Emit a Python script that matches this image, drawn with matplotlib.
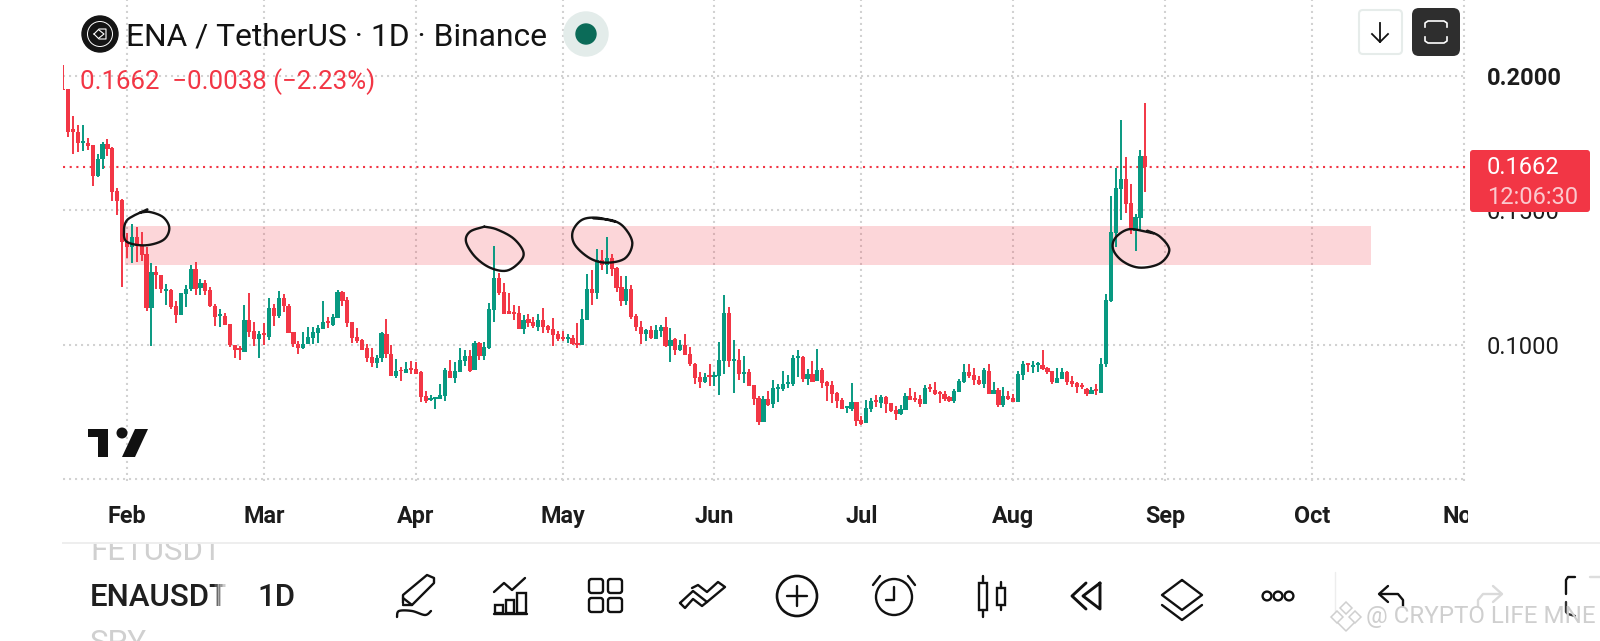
import numpy as np
import matplotlib
matplotlib.use("Agg")
import matplotlib.pyplot as plt
from matplotlib.patches import Rectangle, Circle, FancyBboxPatch, Polygon

plt.rcParams['font.family'] = ['Roboto', 'DejaVu Sans']
plt.rcParams['lines.scale_dashes'] = False

# ---------- data: daily candles, day 0 = 1 Feb ----------
first_day = -13
opens = [
 .1950,.1952,.1802,.1793,.1752,.1750,.1743,.1628,.1691,.1747,.1731,.1572,.1539,
 .1384,.1363,.1400,.1371,.1338,.1138,.1271,.1262,.1201,.1205,.1144,.1111,.1189,.1208,.1281,.1213,.1229,.1204,
 .1146,.1108,.1108,.1077,.1000,.0987,.0975,.1092,.1051,.1023,.1043,.1030,.1136,.1108,.1173,.1144,.1049,.1005,
 .0987,.1005,.1027,.1043,.1059,.1090,.1074,.1100,.1197,.1167,.1084,.1028,.1018,.0988,.0955,.0934,.0950,.1041,
 .0965,.0886,.0907,.0895,.0914,.0910,.0899,.0810,.0797,.0801,.0801,.0811,.0905,.0877,.0900,.0940,.0959,.0907,
 .1008,.0959,.0988,.1130,.1249,.1197,.1125,.1122,.1120,.1060,.1096,.1085,.1068,.1093,.1070,.1058,.1041,.1029,
 .1024,.1026,.1007,.1000,.1093,.1208,.1194,.1316,.1298,.1322,.1287,.1215,.1163,.1208,.1107,.1067,.1041,.1055,
 .1022,.1052,.1067,.0996,.1022,.0981,.1000,.0966,.0929,.0881,.0862,.0888,.0882,.0884,.0940,.1119,.0940,.0944,
 .0892,.0899,.0851,.0802,.0713,.0799,.0780,.0836,.0836,.0855,.0855,.0951,.0955,.0873,.0892,.0866,.0907,.0862,
 .0851,.0821,.0795,.0766,.0762,.0788,.0721,.0710,.0762,.0795,.0784,.0807,.0784,.0758,.0743,.0758,.0810,.0803,
 .0799,.0780,.0844,.0833,.0825,.0818,.0805,.0792,.0825,.0862,.0899,.0888,.0870,.0855,.0903,.0818,.0833,.0777,
 .0810,.0803,.0788,.0888,.0933,.0918,.0926,.0926,.0914,.0903,.0859,.0873,.0899,.0866,.0859,.0851,.0836,.0817,
 .0836,.0821,.0929,.1163,.1415,.1580,.1617,.1528,.1423,.1472,.1702]
closes = [
 .1948,.1793,.1793,.1752,.1758,.1741,.1628,.1691,.1747,.1727,.1570,.1536,.1384,
 .1363,.1400,.1368,.1334,.1136,.1271,.1260,.1208,.1208,.1142,.1111,.1192,.1208,.1284,.1210,.1229,.1200,.1144,
 .1105,.1115,.1074,.1000,.0983,.0981,.1092,.1049,.1024,.1040,.1038,.1138,.1108,.1175,.1144,.1043,.1003,.0987,
 .1005,.1030,.1049,.1062,.1085,.1080,.1105,.1197,.1163,.1080,.1026,.1013,.0983,.0952,.0934,.0951,.1043,.0965,
 .0886,.0902,.0902,.0910,.0907,.0894,.0807,.0791,.0804,.0806,.0814,.0907,.0877,.0902,.0944,.0959,.0905,.1008,
 .0959,.0992,.1132,.1249,.1194,.1117,.1117,.1115,.1060,.1093,.1080,.1070,.1093,.1068,.1055,.1037,.1023,.1023,
 .1029,.1002,.1000,.1096,.1208,.1194,.1316,.1297,.1322,.1284,.1213,.1163,.1208,.1104,.1067,.1041,.1055,.1027,
 .1055,.1067,.0996,.1018,.0981,.1000,.0962,.0929,.0877,.0862,.0881,.0882,.0888,.0944,.1119,.0940,.0948,.0892,
 .0899,.0847,.0799,.0713,.0799,.0776,.0840,.0843,.0855,.0862,.0951,.0959,.0873,.0892,.0862,.0907,.0859,.0848,
 .0818,.0792,.0762,.0773,.0788,.0717,.0706,.0766,.0792,.0788,.0807,.0780,.0754,.0743,.0762,.0810,.0795,.0795,
 .0780,.0840,.0836,.0818,.0818,.0799,.0792,.0829,.0866,.0899,.0885,.0870,.0855,.0907,.0818,.0833,.0777,.0810,
 .0799,.0788,.0892,.0929,.0926,.0926,.0933,.0911,.0899,.0862,.0877,.0899,.0862,.0855,.0844,.0843,.0817,.0832,
 .0828,.0931,.1167,.1420,.1583,.1617,.1524,.1427,.1476,.1702,.1662]
highs = [
 .2041,.1952,.1851,.1818,.1818,.1768,.1743,.1710,.1756,.1764,.1735,.1582,.1541,
 .1417,.1449,.1437,.1421,.1365,.1303,.1294,.1262,.1226,.1208,.1164,.1195,.1223,.1297,.1308,.1244,.1241,.1216,
 .1154,.1132,.1120,.1077,.1000,.0996,.1148,.1192,.1086,.1051,.1080,.1173,.1152,.1200,.1188,.1151,.1049,.1014,
 .1049,.1068,.1068,.1074,.1163,.1105,.1115,.1204,.1202,.1177,.1086,.1062,.1024,.1003,.0988,.0962,.1048,.1096,
 .1000,.0948,.0917,.0935,.0940,.0938,.0904,.0828,.0814,.0807,.0855,.0913,.0944,.0936,.0987,.0981,.0981,.1016,
 .1010,.1012,.1155,.1368,.1266,.1229,.1193,.1148,.1145,.1111,.1117,.1105,.1115,.1138,.1074,.1099,.1052,.1052,
 .1041,.1037,.1080,.1134,.1264,.1279,.1355,.1353,.1401,.1338,.1289,.1256,.1256,.1223,.1117,.1089,.1059,.1070,
 .1074,.1074,.1104,.1063,.1026,.1018,.1041,.0992,.0934,.0899,.0895,.0929,.0898,.1011,.1186,.1141,.1018,.0985,
 .0959,.0910,.0851,.0810,.0810,.0828,.0869,.0855,.0903,.0888,.0962,.0981,.0959,.0911,.0940,.0985,.0914,.0866,
 .0866,.0825,.0803,.0773,.0859,.0788,.0736,.0795,.0803,.0814,.0814,.0810,.0784,.0773,.0777,.0821,.0840,.0825,
 .0814,.0851,.0855,.0862,.0829,.0829,.0810,.0836,.0873,.0929,.0929,.0914,.0885,.0914,.0929,.0862,.0840,.0844,
 .0829,.0818,.0903,.0940,.0933,.0940,.0937,.0981,.0918,.0903,.0914,.0914,.0903,.0885,.0862,.0858,.0839,.0843,
 .0854,.0951,.1189,.1554,.1658,.1836,.1699,.1598,.1487,.1725,.1900]
lows = [
 .1948,.1774,.1710,.1719,.1722,.1725,.1591,.1626,.1654,.1702,.1535,.1483,.1216,
 .1325,.1306,.1309,.1313,.1127,.0996,.1208,.1195,.1148,.1132,.1082,.1111,.1142,.1201,.1185,.1185,.1185,.1142,
 .1071,.1067,.1074,.0991,.0953,.0946,.0975,.1030,.0997,.0953,.1000,.1020,.1071,.1099,.1123,.1043,.0993,.0968,
 .0986,.1003,.1005,.1008,.1058,.1062,.1070,.1100,.1145,.1068,.1008,.1006,.0981,.0938,.0919,.0913,.0938,.0952,
 .0886,.0876,.0867,.0895,.0893,.0893,.0789,.0785,.0792,.0762,.0799,.0792,.0877,.0859,.0900,.0923,.0900,.0907,
 .0944,.0944,.0986,.1086,.1186,.1115,.1117,.1093,.1058,.1041,.1068,.1062,.1053,.1043,.1043,.0998,.1014,.1014,
 .1008,.1000,.0990,.1000,.1093,.1148,.1171,.1279,.1264,.1256,.1197,.1145,.1148,.1098,.1052,.1003,.1014,.1024,
 .1022,.1029,.0992,.0936,.0962,.0977,.0962,.0921,.0855,.0840,.0858,.0847,.0847,.0814,.0892,.0918,.0821,.0869,
 .0858,.0847,.0776,.0702,.0713,.0773,.0765,.0788,.0828,.0840,.0847,.0881,.0862,.0851,.0862,.0866,.0840,.0792,
 .0784,.0766,.0762,.0747,.0754,.0699,.0702,.0710,.0751,.0769,.0766,.0747,.0751,.0721,.0740,.0758,.0795,.0788,
 .0769,.0780,.0825,.0814,.0784,.0792,.0788,.0784,.0825,.0859,.0877,.0851,.0851,.0840,.0818,.0818,.0769,.0769,
 .0795,.0788,.0788,.0870,.0899,.0896,.0899,.0907,.0892,.0855,.0859,.0873,.0851,.0844,.0821,.0836,.0810,.0817,
 .0813,.0821,.0918,.1159,.1364,.1464,.1490,.1412,.1349,.1423,.1569]
days = list(range(first_day, first_day + len(opens)))

zone_low, zone_high = 0.1297, 0.14435
zone_start, zone_end = -0.4, 254.0
last_price = 0.1662

month_names = ["Feb", "Mar", "Apr", "May", "Jun", "Jul", "Aug", "Sep", "Oct", "Nov"]
month_days = [0, 28, 59, 89, 120, 150, 181, 212, 242, 273]
price_ticks = [0.2, 0.15, 0.1, 0.05]
price_labels = ["0.2000", "0.1500", "0.1000", ""]

RED = "#F23645"
GREEN = "#089981"
W, H = 1600, 641
fig = plt.figure(figsize=(W / 100, H / 100), dpi=100, facecolor="white")

# ---------- main chart ----------
L, R_, B_ = 63, 1466, 481
ax = fig.add_axes([L / W, 1 - B_ / H, (R_ - L) / W, B_ / H])
ax.set_xlim((L - 127) / 4.896, 273.5)
ax.set_ylim(0.04944, 0.22825)
for s in ax.spines.values():
    s.set_visible(False)
ax.yaxis.tick_right()
ax.set_yticks(price_ticks, price_labels)
ax.set_xticks(month_days, month_names)
ax.tick_params(axis="both", length=0)
ax.tick_params(axis="y", pad=15, labelsize=17, labelcolor="#1c1c1c")
ax.tick_params(axis="x", pad=17, labelsize=16.8, labelcolor="#1c1c1c")
for t in ax.get_xticklabels():
    t.set_fontweight("bold")
ax.get_yticklabels()[0].set_fontweight("bold")
ax.grid(True, color="#d2d2d2", linewidth=1.5, linestyle=(0, (1.5, 2.82)), dash_capstyle="butt")
ax.set_axisbelow(True)

ax.add_patch(Rectangle((zone_start, zone_low), zone_end - zone_start, zone_high - zone_low,
                       facecolor=RED, alpha=0.2, edgecolor="none", zorder=1))
ax.axhline(last_price, color=RED, linewidth=1.5, linestyle=(0, (1.5, 3.3)), dash_capstyle="butt", zorder=2)

o, c, h, l = map(np.array, (opens, closes, highs, lows))
cols = [GREEN if a >= b else RED for a, b in zip(c, o)]
ax.vlines(days, l, h, colors=cols, linewidth=1.4, zorder=3)
ax.bar(days, np.abs(c - o), bottom=np.minimum(o, c), width=0.86, color=cols, linewidth=0, zorder=4)

# ---------- overlay in pixel coordinates ----------
ui = fig.add_axes([0, 0, 1, 1], facecolor="none")
ui.set_xlim(0, W)
ui.set_ylim(H, 0)
ui.axis("off")

def smooth(pts, n=14):
    p = np.array(pts, float)
    p = np.vstack([p[0], p, p[-1]])
    out = []
    for i in range(1, len(p) - 2):
        for t in np.linspace(0, 1, n, endpoint=False):
            out.append(0.5 * ((2 * p[i]) + (-p[i - 1] + p[i + 1]) * t
                              + (2 * p[i - 1] - 5 * p[i] + 4 * p[i + 1] - p[i + 2]) * t ** 2
                              + (-p[i - 1] + 3 * p[i] - 3 * p[i + 1] + p[i + 2]) * t ** 3))
    out.append(p[-2])
    return np.array(out)

def ink(x0, y0, pts):
    q = smooth([(x0 + a / 3, y0 + b / 3) for a, b in pts])
    ui.plot(q[:, 0], q[:, 1], color="#141414", lw=1.7, solid_capstyle="round", zorder=5)

ink(60, 60, [(262, 448), (225, 465), (200, 482), (192, 510), (200, 545), (255, 556), (310, 540), (328, 505), (310, 472), (270, 456), (240, 458)])
ink(300, 200, [(553, 80), (510, 95), (498, 125), (525, 170), (570, 203), (620, 212), (660, 185), (670, 155), (640, 115), (590, 88), (553, 80)])
ink(550, 200, [(195, 65), (140, 53), (95, 60), (68, 95), (75, 135), (120, 175), (170, 188), (225, 175), (247, 130), (225, 85), (190, 62), (130, 55)])
ink(1060, 90, [(280, 430), (258, 425), (205, 418), (165, 445), (160, 480), (190, 515), (240, 533), (300, 520), (328, 480), (300, 440), (262, 422)])

# header
ui.add_patch(Circle((100, 34), 18, color="#141414", zorder=6))
ui.add_patch(Circle((100, 34), 12.5, fill=False, ec="white", lw=0.7, zorder=7))
ui.plot([94, 99, 106, 106, 99, 94], [34, 29, 29, 39, 39, 34], color="white", lw=0.8, zorder=7)
ui.plot([99, 104, 99], [30, 34, 38], color="white", lw=0.8, zorder=7)
ui.text(126.5, 37, "ENA / TetherUS · 1D · Binance", fontsize=22.9, color="#131313", va="center", ha="left")
ui.add_patch(Circle((586, 34), 22, color="#E3ECEA", zorder=6))
ui.add_patch(Circle((586, 34), 10, color="#0B6B58", zorder=7))
ui.text(80.5, 81.5, "0.1662  −0.0038 (−2.23%)", fontsize=18.6, color=RED, va="center", ha="left")

# buttons
ui.add_patch(FancyBboxPatch((1359, 10), 43, 44, boxstyle="round,pad=0,rounding_size=4", fc="white", ec="#E6ECEA", lw=1.5, zorder=6))
ui.plot([1380, 1380], [23, 42], color="#111111", lw=1.3, zorder=7)
ui.plot([1372, 1380, 1388], [34, 42, 34], color="#111111", lw=1.3, zorder=7)
ui.add_patch(FancyBboxPatch((1412, 8), 48, 48, boxstyle="round,pad=0,rounding_size=7", fc="#2E2E2E", ec="none", zorder=6))
for yy, sgn in ((21, 1), (43, -1)):
    ui.plot([1425, 1425, 1428, 1444, 1447, 1447], [yy + sgn * 6, yy + sgn * 2, yy, yy, yy + sgn * 2, yy + sgn * 6], color="white", lw=1.2, zorder=7)

# price tag
ui.add_patch(FancyBboxPatch((1470, 150), 120, 62, boxstyle="round,pad=0,rounding_size=3", fc=RED, ec="none", zorder=6))
ui.text(1487, 168, "0.1662", fontsize=17, color="white", va="center", ha="left", zorder=7)
ui.text(1487, 197, "12:06:30", fontsize=17, color="#FBC9CE", va="center", ha="left", zorder=7)

# TradingView logo
ui.add_patch(Polygon([(88, 429), (108, 429), (108, 457), (98, 457), (98, 437), (88, 437)], fc="#111111", ec="none"))
ui.add_patch(Circle((122, 433), 5.5, fc="#111111", ec="none"))
ui.add_patch(Polygon([(135, 429), (148, 429), (135, 457), (122, 457)], fc="#111111", ec="none"))

# mask right of time scale and bottom panel
ui.add_patch(Rectangle((1468, 490), 132, 45, fc="white", ec="none", zorder=2))
ui.add_patch(Rectangle((0, 543), W, 98, fc="white", ec="none", zorder=1))

ui.text(90, 552, "FETUSDT", fontsize=22.5, color="#D0D0D0", va="center", ha="left", zorder=2)
ui.add_patch(Rectangle((0, 532), W, 11, fc="white", ec="none", zorder=2.5))
ui.plot([63, W], [543, 543], color="#EEEEEE", lw=1.4, zorder=3)
ui.text(90, 597, "ENAUSDT", fontsize=22.5, color="#1F1F1F", va="center", ha="left", zorder=2, fontweight="medium")
for i, a in enumerate(np.linspace(0, 1, 10)):
    ui.add_patch(Rectangle((212 + i * 1.6, 575), 1.7, 40, fc="white", ec="none", alpha=a, zorder=2.2))
ui.add_patch(Rectangle((228, 575), 20, 40, fc="white", ec="none", zorder=2.2))
ui.text(257, 597, "1D", fontsize=22.5, color="#1F1F1F", va="center", ha="left", zorder=3, fontweight="medium")
ui.text(90, 644, "SPY", fontsize=22.5, color="#D0D0D0", va="center", ha="left", zorder=2, clip_on=True)

# toolbar icons
IC = "#111111"
LW = 1.7
def line(xs, ys, color=IC, lw=LW, z=4):
    ui.plot(xs, ys, color=color, lw=lw, solid_capstyle="round", solid_joinstyle="round", zorder=z)

# pencil
line([403, 403, 427, 434, 434, 412, 403], [603, 595, 575, 578, 583, 605, 605])
line([403, 412], [598, 605])
sq = smooth([(397, 617), (399, 611), (412, 611), (425, 615), (431, 611)])
line(sq[:, 0], sq[:, 1])
# bars + trend
line([494, 504, 512, 525], [592, 583, 590, 578])
for xa, ya, wa in ((495, 605, 8), (506, 600, 8), (517, 593, 9)):
    ui.add_patch(Rectangle((xa, ya), wa, 613 - ya, fc="none", ec=IC, lw=LW, zorder=4))
line([494, 527], [614, 614])
# grid
for xa in (589, 608):
    for ya in (579, 598):
        ui.add_patch(FancyBboxPatch((xa, ya), 14, 14, boxstyle="round,pad=0,rounding_size=2.5", fc="none", ec=IC, lw=LW, zorder=4))
# chevrons
line([680, 693, 707, 702, 693, 685, 680], [603, 591, 602, 606, 599, 608, 603])
line([692, 698, 707, 718, 725, 707], [588, 585, 592, 582, 587, 602])
# plus
ui.add_patch(Circle((797, 596), 20, fc="none", ec=IC, lw=LW + 0.2, zorder=4))
line([797, 797], [586, 606]); line([787, 807], [596, 596])
# alarm
ui.add_patch(Circle((894, 597), 18, fc="none", ec=IC, lw=LW, zorder=4))
line([894, 894, 886], [587, 600, 600])
line([873, 880], [585, 576]); line([908, 915], [576, 585])
# candles icon
ui.add_patch(Rectangle((979, 583), 8, 27, fc="none", ec=IC, lw=LW, zorder=4))
line([983, 983], [576, 583]); line([983, 983], [610, 617])
ui.add_patch(Rectangle((997, 588), 8, 17, fc="none", ec=IC, lw=LW, zorder=4))
line([1001, 1001], [582, 588]); line([1001, 1001], [605, 610])
# rewind
line([1086, 1072, 1086], [583, 596, 609], lw=2.1)
line([1100, 1100, 1083, 1100], [583, 609, 596, 583], lw=2.1)
# layers
line([1182, 1202, 1182, 1162, 1182], [580, 595, 610, 595, 580])
line([1162, 1182, 1202], [605, 620, 605])
# dots
for xa in (1267, 1278, 1289):
    ui.add_patch(Circle((xa, 596), 4.4, fc="none", ec=IC, lw=LW, zorder=4))
# separator + undo/redo
line([1335, 1335], [572, 612], color="#EDEDED", lw=1)
line([1403, 1403, 1398, 1380], [606, 600, 594, 594])
line([1388, 1379, 1388], [586, 594, 602])
line([1478, 1478, 1483, 1501], [606, 600, 594, 594], color="#DADADA")
line([1493, 1502, 1493], [586, 594, 602], color="#DADADA")
# fullscreen corner
line([1575, 1568, 1566, 1566], [577, 577, 580, 594])
line([1566, 1566, 1568, 1575], [602, 612, 614, 616], color="#333333")
line([1590, 1600], [577, 577], color="#DDDDDD")

# watermark
wm = "#CFCFCF"
ui.add_patch(Polygon([(1346, 602), (1352, 608), (1346, 614), (1340, 608)], fc="none", ec=wm, lw=1.1, zorder=6))
ui.add_patch(Polygon([(1337, 611), (1343, 617), (1337, 623), (1331, 617)], fc="none", ec=wm, lw=1.1, zorder=6))
ui.add_patch(Polygon([(1355, 611), (1361, 617), (1355, 623), (1349, 617)], fc="none", ec=wm, lw=1.1, zorder=6))
ui.plot([1338, 1346, 1354], [623, 631, 623], color=wm, lw=1.1, zorder=6)
ui.text(1366, 617, "@ CRYPTO LIFE MNE", fontsize=17.4, color=wm, va="center", ha="left", zorder=6)

fig.savefig("out.png", dpi=100, facecolor="white")
